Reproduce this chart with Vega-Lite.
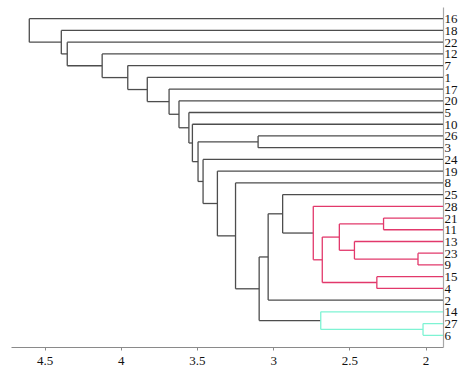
{
  "$schema": "https://vega.github.io/schema/vega-lite/v6.json",
  "width": 432,
  "height": 340,
  "autosize": {"type": "none"},
  "padding": {"left": 11, "top": 7, "right": 31, "bottom": 28},
  "background": "white",
  "config": {"view": {"stroke": null}},
  "data": {"values": [
    {"x": 4.60, "x2": 4.60, "y": 1, "y2": 3.0, "g": "g"},
    {"x": 0, "x2": 4.60, "y": 1, "y2": 1, "g": "g"},
    {"x": 4.39, "x2": 4.60, "y": 3.0, "y2": 3.0, "g": "g"},
    {"x": 4.39, "x2": 4.39, "y": 2, "y2": 4.0, "g": "g"},
    {"x": 0, "x2": 4.39, "y": 2, "y2": 2, "g": "g"},
    {"x": 4.351, "x2": 4.39, "y": 4.0, "y2": 4.0, "g": "g"},
    {"x": 4.351, "x2": 4.351, "y": 3, "y2": 5.01, "g": "g"},
    {"x": 0, "x2": 4.351, "y": 3, "y2": 3, "g": "g"},
    {"x": 4.122, "x2": 4.351, "y": 5.01, "y2": 5.01, "g": "g"},
    {"x": 4.122, "x2": 4.122, "y": 4, "y2": 6.02, "g": "g"},
    {"x": 0, "x2": 4.122, "y": 4, "y2": 4, "g": "g"},
    {"x": 3.954, "x2": 4.122, "y": 6.02, "y2": 6.02, "g": "g"},
    {"x": 3.954, "x2": 3.954, "y": 5, "y2": 7.04, "g": "g"},
    {"x": 0, "x2": 3.954, "y": 5, "y2": 5, "g": "g"},
    {"x": 3.826, "x2": 3.954, "y": 7.04, "y2": 7.04, "g": "g"},
    {"x": 3.826, "x2": 3.826, "y": 6, "y2": 8.07, "g": "g"},
    {"x": 0, "x2": 3.826, "y": 6, "y2": 6, "g": "g"},
    {"x": 3.683, "x2": 3.826, "y": 8.07, "y2": 8.07, "g": "g"},
    {"x": 3.683, "x2": 3.683, "y": 7, "y2": 9.15, "g": "g"},
    {"x": 0, "x2": 3.683, "y": 7, "y2": 7, "g": "g"},
    {"x": 3.618, "x2": 3.683, "y": 9.15, "y2": 9.15, "g": "g"},
    {"x": 3.618, "x2": 3.618, "y": 8, "y2": 10.3, "g": "g"},
    {"x": 0, "x2": 3.618, "y": 8, "y2": 8, "g": "g"},
    {"x": 3.553, "x2": 3.618, "y": 10.3, "y2": 10.3, "g": "g"},
    {"x": 3.553, "x2": 3.553, "y": 9, "y2": 11.6, "g": "g"},
    {"x": 0, "x2": 3.553, "y": 9, "y2": 9, "g": "g"},
    {"x": 3.53, "x2": 3.553, "y": 11.6, "y2": 11.6, "g": "g"},
    {"x": 3.53, "x2": 3.53, "y": 10, "y2": 13.19, "g": "g"},
    {"x": 0, "x2": 3.53, "y": 10, "y2": 10, "g": "g"},
    {"x": 3.493, "x2": 3.53, "y": 13.19, "y2": 13.19, "g": "g"},
    {"x": 3.493, "x2": 3.493, "y": 11.5, "y2": 14.88, "g": "g"},
    {"x": 3.099, "x2": 3.493, "y": 11.5, "y2": 11.5, "g": "g"},
    {"x": 3.46, "x2": 3.493, "y": 14.88, "y2": 14.88, "g": "g"},
    {"x": 3.099, "x2": 3.099, "y": 11, "y2": 12, "g": "g"},
    {"x": 0, "x2": 3.099, "y": 11, "y2": 11, "g": "g"},
    {"x": 0, "x2": 3.099, "y": 12, "y2": 12, "g": "g"},
    {"x": 3.46, "x2": 3.46, "y": 13, "y2": 16.76, "g": "g"},
    {"x": 0, "x2": 3.46, "y": 13, "y2": 13, "g": "g"},
    {"x": 3.366, "x2": 3.46, "y": 16.76, "y2": 16.76, "g": "g"},
    {"x": 3.366, "x2": 3.366, "y": 14, "y2": 19.52, "g": "g"},
    {"x": 0, "x2": 3.366, "y": 14, "y2": 14, "g": "g"},
    {"x": 3.247, "x2": 3.366, "y": 19.52, "y2": 19.52, "g": "g"},
    {"x": 3.247, "x2": 3.247, "y": 15, "y2": 24.035, "g": "g"},
    {"x": 0, "x2": 3.247, "y": 15, "y2": 15, "g": "g"},
    {"x": 3.092, "x2": 3.247, "y": 24.035, "y2": 24.035, "g": "g"},
    {"x": 3.092, "x2": 3.092, "y": 21.32, "y2": 26.75, "g": "g"},
    {"x": 3.033, "x2": 3.092, "y": 21.32, "y2": 21.32, "g": "g"},
    {"x": 2.688, "x2": 3.092, "y": 26.75, "y2": 26.75, "g": "g"},
    {"x": 3.033, "x2": 3.033, "y": 17.64, "y2": 25, "g": "g"},
    {"x": 2.938, "x2": 3.033, "y": 17.64, "y2": 17.64, "g": "g"},
    {"x": 0, "x2": 3.033, "y": 25, "y2": 25, "g": "g"},
    {"x": 2.938, "x2": 2.938, "y": 16, "y2": 19.28, "g": "g"},
    {"x": 0, "x2": 2.938, "y": 16, "y2": 16, "g": "g"},
    {"x": 2.737, "x2": 2.938, "y": 19.28, "y2": 19.28, "g": "g"},
    {"x": 2.737, "x2": 2.737, "y": 17, "y2": 21.5625, "g": "r"},
    {"x": 0, "x2": 2.737, "y": 17, "y2": 17, "g": "r"},
    {"x": 2.678, "x2": 2.737, "y": 21.5625, "y2": 21.5625, "g": "r"},
    {"x": 2.678, "x2": 2.678, "y": 19.625, "y2": 23.5, "g": "r"},
    {"x": 2.566, "x2": 2.678, "y": 19.625, "y2": 19.625, "g": "r"},
    {"x": 2.32, "x2": 2.678, "y": 23.5, "y2": 23.5, "g": "r"},
    {"x": 2.566, "x2": 2.566, "y": 18.5, "y2": 20.75, "g": "r"},
    {"x": 2.276, "x2": 2.566, "y": 18.5, "y2": 18.5, "g": "r"},
    {"x": 2.467, "x2": 2.566, "y": 20.75, "y2": 20.75, "g": "r"},
    {"x": 2.276, "x2": 2.276, "y": 18, "y2": 19, "g": "r"},
    {"x": 0, "x2": 2.276, "y": 18, "y2": 18, "g": "r"},
    {"x": 0, "x2": 2.276, "y": 19, "y2": 19, "g": "r"},
    {"x": 2.467, "x2": 2.467, "y": 20, "y2": 21.5, "g": "r"},
    {"x": 0, "x2": 2.467, "y": 20, "y2": 20, "g": "r"},
    {"x": 2.05, "x2": 2.467, "y": 21.5, "y2": 21.5, "g": "r"},
    {"x": 2.05, "x2": 2.05, "y": 21, "y2": 22, "g": "r"},
    {"x": 0, "x2": 2.05, "y": 21, "y2": 21, "g": "r"},
    {"x": 0, "x2": 2.05, "y": 22, "y2": 22, "g": "r"},
    {"x": 2.32, "x2": 2.32, "y": 23, "y2": 24, "g": "r"},
    {"x": 0, "x2": 2.32, "y": 23, "y2": 23, "g": "r"},
    {"x": 0, "x2": 2.32, "y": 24, "y2": 24, "g": "r"},
    {"x": 2.688, "x2": 2.688, "y": 26, "y2": 27.5, "g": "c"},
    {"x": 0, "x2": 2.688, "y": 26, "y2": 26, "g": "c"},
    {"x": 2.017, "x2": 2.688, "y": 27.5, "y2": 27.5, "g": "c"},
    {"x": 2.017, "x2": 2.017, "y": 27, "y2": 28, "g": "c"},
    {"x": 0, "x2": 2.017, "y": 27, "y2": 27, "g": "c"},
    {"x": 0, "x2": 2.017, "y": 28, "y2": 28, "g": "c"}
  ]},
  "mark": {"type": "rule", "strokeWidth": 1.3, "clip": true},
  "encoding": {
    "x": {
      "field": "x", "type": "quantitative",
      "scale": {"domain": [1.886, 4.72], "reverse": true, "nice": false, "zero": false},
      "axis": {
        "title": null, "values": [2, 2.5, 3, 3.5, 4, 4.5], "format": "~g",
        "grid": false, "domainColor": "#8a8a8a", "domainWidth": 1.2,
        "tickColor": "#8a8a8a", "tickSize": 3, "labelPadding": 4,
        "labelFont": "Liberation Serif", "labelFontSize": 13, "labelColor": "#111"
      }
    },
    "x2": {"field": "x2"},
    "y": {
      "field": "y", "type": "quantitative",
      "scale": {"domain": [0, 29], "reverse": true, "nice": false, "zero": false},
      "axis": {
        "orient": "right", "title": null,
        "values": [1,2,3,4,5,6,7,8,9,10,11,12,13,14,15,16,17,18,19,20,21,22,23,24,25,26,27,28],
        "labelExpr": "['16','18','22','12','7','1','17','20','5','10','26','3','24','19','8','25','28','21','11','13','23','9','15','4','2','14','27','6'][datum.value - 1]",
        "grid": false, "ticks": false, "domainColor": "#a8a8a8", "domainWidth": 1.2,
        "labelPadding": 1, "labelOverlap": false, "labelBound": false,
        "labelFont": "Liberation Serif", "labelFontSize": 13, "labelColor": "#111"
      }
    },
    "y2": {"field": "y2"},
    "color": {
      "field": "g", "type": "nominal", "legend": null,
      "scale": {"domain": ["g", "r", "c"], "range": ["#4d4d4d", "#e2386b", "#7ef3d3"]}
    }
  }
}
